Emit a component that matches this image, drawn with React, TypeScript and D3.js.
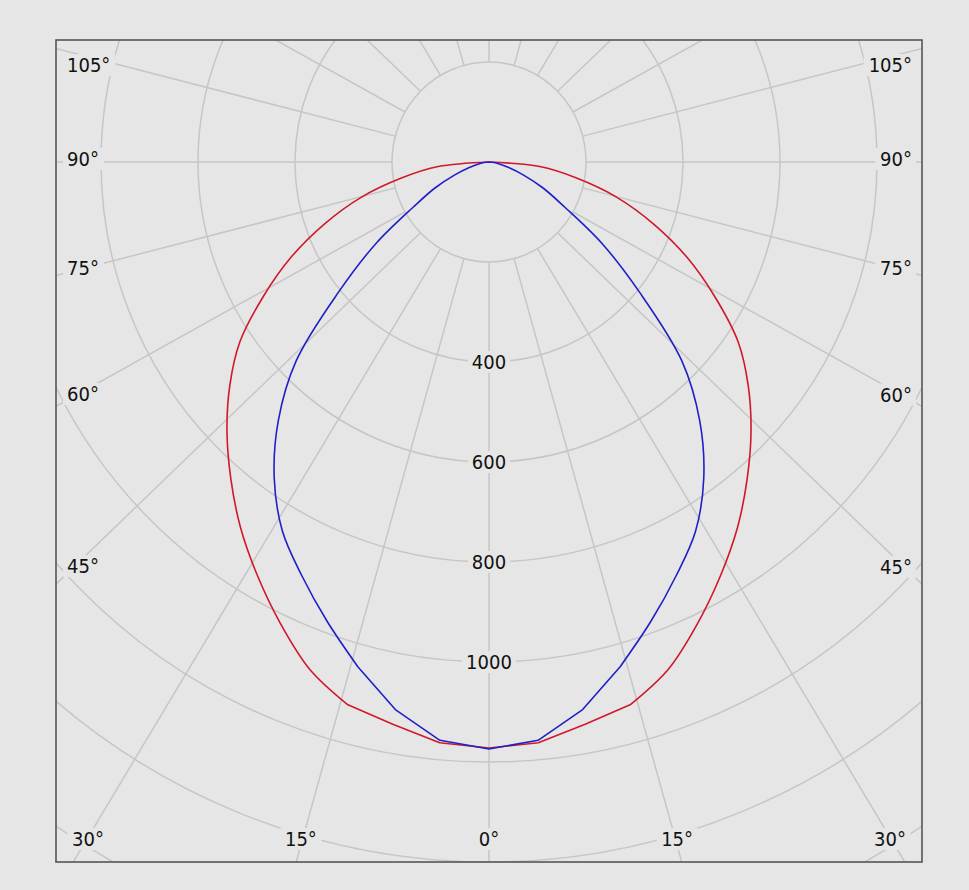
import React from 'react';
import * as d3 from 'd3';

// Luminous intensity (cd) at polar angle from nadir (symmetric C-planes)
const ANGLES = [0, 5, 10, 15, 20, 25, 30, 35, 40, 45, 50, 55, 60, 65, 70, 75, 80, 85, 90];
const RED_CD = [1172, 1166, 1142, 1124, 1080, 1018, 955, 893, 828, 764, 698, 627, 537, 450, 360, 273, 182, 105, 0];
const BLUE_CD = [1174, 1161, 1112, 1045, 977, 913, 852, 772, 676, 562, 405, 285, 180, 123, 75, 42, 20, 7, 0];
const RING_CD = [200, 400, 600, 800, 1000, 1200, 1400, 1600];
const RING_LABELS = [400, 600, 800, 1000];
const SPOKE_DEG = d3.range(0, 360, 15);
const EDGE_LABEL_DEG = [-105, -90, -75, -60, -45, -30, -15, 0, 15, 30, 45, 60, 75, 90, 105];

const BG = '#e6e6e6';
const GRID = '#c6c6c6';
const FONT = '"DejaVu Sans Condensed", "DejaVu Sans", sans-serif';
const FS = 20;

export default function App() {
  const W = 969, H = 890;
  const fx0 = 56, fy0 = 40, fx1 = 922, fy1 = 862;
  const cx = 489, cy = 162;
  const KX = 0.97, KXL = 1.037;
  const r = d3.scaleLinear().domain([0, 1600]).range([0, 800]);
  const rad = (d: number) => (d * Math.PI) / 180;
  const px = (deg: number, cd: number) => cx + KX * r(cd) * Math.sin(rad(deg));
  const py = (deg: number, cd: number) => cy + r(cd) * Math.cos(rad(deg));

  // split each series: linear near nadir (|a| <= 15), smooth elsewhere
  const pieces = (vals: number[]) => {
    const left: [number, number][] = [];
    const mid: [number, number][] = [];
    const right: [number, number][] = [];
    for (let i = ANGLES.length - 1; i >= 0; i--) {
      if (ANGLES[i] >= 15) left.push([-ANGLES[i], vals[i]]);
      if (ANGLES[i] <= 15) mid.push([-ANGLES[i], vals[i]]);
    }
    for (let i = 0; i < ANGLES.length; i++) {
      if (ANGLES[i] > 0 && ANGLES[i] <= 15) mid.push([ANGLES[i], vals[i]]);
      if (ANGLES[i] >= 15) right.push([ANGLES[i], vals[i]]);
    }
    return { left, mid, right };
  };
  const smooth = d3
    .line<[number, number]>()
    .x((d) => px(d[0], d[1]))
    .y((d) => py(d[0], d[1]))
    .curve(d3.curveCatmullRom.alpha(0.5));
  const straight = d3
    .line<[number, number]>()
    .x((d) => px(d[0], d[1]))
    .y((d) => py(d[0], d[1]));
  const seriesPath = (vals: number[]) => {
    const p = pieces(vals);
    return [smooth(p.left), straight(p.mid), smooth(p.right)].join(' ');
  };

  const spokes = SPOKE_DEG.map((deg) => {
    const a = rad(deg);
    const x1 = px(deg, 200), y1 = py(deg, 200);
    const L = 1400;
    return { deg, x1, y1, x2: x1 + L * KXL * Math.sin(a), y2: y1 + L * Math.cos(a) };
  });

  const textW = (s: string) => {
    let w = 0;
    for (const ch of s) w += ch === '°' ? 0.5 * FS : 0.572 * FS;
    return w;
  };

  const edgeLabels = EDGE_LABEL_DEG.map((deg) => {
    const a = rad(deg);
    const txt = `${Math.abs(deg)}°`;
    const w = textW(txt);
    if (deg === 0) {
      return { txt, x: cx, y: 839, anchor: 'middle', w };
    }
    const left = deg < 0;
    const xe = left ? 67 : 912;
    const s = KXL * Math.sin(a);
    const t = (xe - cx) / s;
    let y = cy + t * Math.cos(a) - 3;
    if (y <= 839) {
      y = Math.max(65, y);
      return { txt, x: xe, y, anchor: left ? 'start' : 'end', w };
    }
    let x = cx + (839 - cy) * KXL * Math.tan(a);
    x = Math.max(88, Math.min(890, x));
    return { txt, x, y: 839, anchor: 'middle', w };
  });

  const rectFor = (l: { x: number; y: number; anchor: string; w: number }) => {
    const padX = 4, padY = 3, h = FS * 0.8;
    let x0 = l.x;
    if (l.anchor === 'middle') x0 = l.x - l.w / 2;
    if (l.anchor === 'end') x0 = l.x - l.w;
    return { x: x0 - padX, y: l.y - h / 2 - padY, width: l.w + 2 * padX, height: h + 2 * padY };
  };

  return (
    <svg
      width={W}
      height={H}
      style={{ position: 'absolute', left: 0, top: 0, display: 'block' }}
    >
      <defs>
        <clipPath id="frameClip">
          <rect x={fx0} y={fy0} width={fx1 - fx0} height={fy1 - fy0} />
        </clipPath>
      </defs>
      <rect x={0} y={0} width={W} height={H} fill={BG} />
      <g clipPath="url(#frameClip)">
        {RING_CD.map((v) => (
          <ellipse key={v} cx={cx} cy={cy} rx={KX * r(v)} ry={r(v)} fill="none" stroke={GRID} strokeWidth={1.5} />
        ))}
        {spokes.map((s) => (
          <line key={s.deg} x1={s.x1} y1={s.y1} x2={s.x2} y2={s.y2} stroke={GRID} strokeWidth={1.5} />
        ))}
        {RING_LABELS.map((v) => {
          const txt = String(v);
          const l = { x: cx, y: py(0, v), anchor: 'middle', w: textW(txt) };
          const rc = rectFor(l);
          return (
            <g key={v}>
              <rect {...rc} fill={BG} />
              <text x={l.x} y={l.y} dy="0.36em" textAnchor="middle" fontFamily={FONT} fontSize={FS} fill="#111">
                {txt}
              </text>
            </g>
          );
        })}
        {edgeLabels.map((l, i) => {
          const rc = rectFor(l);
          return (
            <g key={i}>
              <rect {...rc} fill={BG} />
              <text x={l.x} y={l.y} dy="0.36em" textAnchor={l.anchor as any} fontFamily={FONT} fontSize={FS} fill="#111">
                {l.txt}
              </text>
            </g>
          );
        })}
        <path d={seriesPath(RED_CD)} fill="none" stroke="#d0182c" strokeWidth={1.6} strokeLinejoin="round" />
        <path d={seriesPath(BLUE_CD)} fill="none" stroke="#2020c8" strokeWidth={1.6} strokeLinejoin="round" />
      </g>
      <rect x={fx0} y={fy0} width={fx1 - fx0} height={fy1 - fy0} fill="none" stroke="#555" strokeWidth={1.6} />
    </svg>
  );
}
